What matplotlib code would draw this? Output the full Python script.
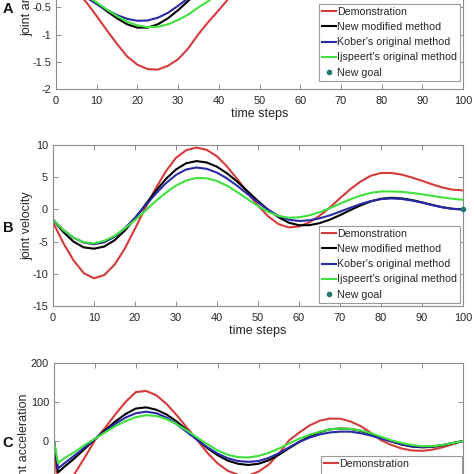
import matplotlib
matplotlib.use('Agg')
import matplotlib.pyplot as plt
from matplotlib.lines import Line2D

plt.rcParams['font.family'] = ['Liberation Sans', 'DejaVu Sans']
plt.rcParams['axes.unicode_minus'] = False

# ---------------- data ----------------
steps = [0, 2.5, 5, 7.5, 10, 12.5, 15, 17.5, 20, 22.5, 25, 27.5, 30, 32.5, 35, 37.5, 40,
         42.5, 45, 47.5, 50, 52.5, 55, 57.5, 60, 62.5, 65, 67.5, 70, 72.5, 75, 77.5, 80,
         82.5, 85, 87.5, 90, 92.5, 95, 97.5, 100]
steps_acc = [0, 1, 2.5, 5, 7.5, 10, 12.5, 15, 17.5, 20, 22.5, 25, 27.5, 30, 32.5, 35, 37.5, 40,
             42.5, 45, 47.5, 50, 52.5, 55, 57.5, 60, 62.5, 65, 67.5, 70, 72.5, 75, 77.5, 80,
             82.5, 85, 87.5, 90, 92.5, 95, 97.5, 100]

labels = ["Demonstration", "New modified method", "Kober's original method",
          "Ijspeert's original method", "New goal"]

# Panel A: joint angle
ang_demo = [0.05, -0.06, -0.2, -0.41, -0.66, -0.92, -1.17, -1.40, -1.55, -1.63, -1.64, -1.57,
            -1.45, -1.25, -0.99, -0.76, -0.55, -0.33, -0.12, 0.07, 0.23, 0.22, 0.18, 0.12,
            0.05, -0.01, -0.05, -0.06, -0.03, 0.03, 0.12, 0.24, 0.38, 0.52, 0.66, 0.79, 0.91,
            1.01, 1.10, 1.18, 1.26]
ang_new = [0.0, -0.06, -0.17, -0.30, -0.43, -0.57, -0.70, -0.81, -0.87, -0.87, -0.81, -0.70,
           -0.55, -0.38, -0.20, -0.03, 0.12, 0.27, 0.38, 0.47, 0.52, 0.53, 0.52, 0.48, 0.42,
           0.37, 0.31, 0.27, 0.24, 0.23, 0.23, 0.25, 0.29, 0.33, 0.37, 0.41, 0.44, 0.46, 0.48,
           0.49, 0.5]
ang_kober = [-0.03, -0.10, -0.20, -0.32, -0.44, -0.55, -0.64, -0.71, -0.745, -0.74, -0.69,
             -0.60, -0.47, -0.33, -0.17, -0.02, 0.11, 0.24, 0.34, 0.41, 0.45, 0.46, 0.45, 0.42,
             0.38, 0.34, 0.30, 0.27, 0.26, 0.26, 0.27, 0.30, 0.33, 0.37, 0.41, 0.44, 0.46, 0.48,
             0.49, 0.5, 0.5]
ang_ijs = [-0.02, -0.08, -0.17, -0.29, -0.41, -0.54, -0.66, -0.76, -0.83, -0.86, -0.855, -0.81,
           -0.73, -0.63, -0.50, -0.38, -0.26, -0.16, -0.09, -0.04, -0.01, -0.01, -0.03, -0.06,
           -0.09, -0.11, -0.13, -0.13, -0.12, -0.09, -0.04, 0.01, 0.08, 0.14, 0.21, 0.27, 0.33,
           0.38, 0.43, 0.47, 0.51]
ang_goal = [0.5]

# Panel B: joint velocity
vel_demo = [-2.0, -5.2, -7.9, -9.9, -10.7, -10.2, -8.6, -6.1, -3.0, 0.2, 3.2, 5.9, 8.0, 9.2,
            9.6, 9.24, 8.24, 6.62, 4.66, 2.57, 0.58, -1.09, -2.29, -2.79, -2.65, -2.02, -1.0,
            0.29, 1.74, 3.12, 4.32, 5.22, 5.66, 5.66, 5.41, 4.96, 4.44, 3.89, 3.40, 3.06, 2.95]
vel_new = [-1.6, -3.5, -5.0, -5.9, -6.1, -5.77, -4.8, -3.3, -1.4, 0.7, 2.8, 4.7, 6.2, 7.17, 7.5,
           7.28, 6.62, 5.58, 4.27, 2.79, 1.3, -0.07, -1.2, -2.06, -2.46, -2.45, -2.14, -1.6,
           -0.89, -0.11, 0.62, 1.24, 1.66, 1.8, 1.71, 1.46, 1.1, 0.7, 0.34, 0.09, 0.0]
vel_kober = [-1.6, -3.2, -4.4, -5.15, -5.4, -5.11, -4.26, -2.95, -1.29, 0.55, 2.39, 4.05, 5.36,
             6.21, 6.5, 6.3, 5.71, 4.79, 3.63, 2.35, 1.07, -0.09, -1.01, -1.6, -1.8, -1.7, -1.39,
             -0.93, -0.35, 0.25, 0.83, 1.29, 1.6, 1.7, 1.62, 1.39, 1.04, 0.66, 0.32, 0.08, 0.0]
vel_ijs = [-1.6, -3.2, -4.4, -5.1, -5.27, -4.88, -4.11, -2.97, -1.67, -0.2, 1.27, 2.57, 3.71,
           4.48, 4.89, 4.83, 4.41, 3.66, 2.67, 1.58, 0.51, -0.39, -1.02, -1.3, -1.23, -0.92,
           -0.43, 0.19, 0.89, 1.56, 2.14, 2.57, 2.78, 2.79, 2.72, 2.56, 2.35, 2.1, 1.86, 1.65, 1.5]
vel_goal = [0.0]

# Panel C: joint acceleration
acc_demo = [0, -130, -118, -84, -42, 2, 34, 68, 100, 125, 128, 117, 95, 66, 34, 3, -30, -57,
            -76, -86, -88, -78, -60, -32, 2, 22, 40, 52, 57.5, 57, 50, 38, 21, 2, -10, -19, -24,
            -25, -22, -16, -8, 0]
acc_new = [0, -80, -66, -44, -20, 5, 28, 50, 69, 83, 86, 80, 68, 50, 28, 4, -18, -36, -50, -58,
           -61, -58, -49, -35, -18, -2, 12, 23, 30, 32, 31, 26, 18, 8, -1, -9, -14, -16, -15,
           -11, -5, 0]
acc_kober = [0, -70, -57, -37, -16, 5, 25, 44, 60, 71, 75, 71, 60, 43, 23, 3, -16, -32, -44,
             -51, -53, -51, -43, -31, -16, -2, 9, 17, 22, 24, 24, 20, 14, 6, -1, -8, -13, -15,
             -14, -10, -5, 0]
acc_ijs = [0, -56, -44, -28, -10, 6, 22, 38, 51, 61, 66, 64, 56, 43, 27, 9, -8, -24, -35, -41,
           -42, -38, -30, -19, -6, 6, 16, 24, 30, 32, 31, 27, 20, 11, 2, -5, -10, -13, -13, -10,
           -5, 0]

# ---------------- styling ----------------
C_RED = '#d63a3a'
C_BLACK = '#000000'
C_BLUE = '#2a2aa6'
C_GREEN = '#3fe03f'
C_GOAL = '#1d7a70'
AX_COL = '#8c8c8c'
TXT_COL = '#262626'
LW = 1.5

W = H = 474.0
fig = plt.figure(figsize=(4.74, 4.74), dpi=100)


def px_axes(l, t, r, b):
    return fig.add_axes([l / W, 1 - b / H, (r - l) / W, (b - t) / H])


def style(ax, ylim, yticks, ylabel):
    ax.set_xlim(0, 100)
    ax.set_ylim(*ylim)
    ax.set_xticks([0, 10, 20, 30, 40, 50, 60, 70, 80, 90, 100])
    ax.set_yticks(yticks)
    ax.set_yticklabels([('%g' % v) for v in yticks])
    for s in ax.spines.values():
        s.set_color(AX_COL)
        s.set_linewidth(0.8)
    ax.tick_params(direction='in', top=True, right=True, length=3.5, width=0.7,
                   color=AX_COL, labelcolor=TXT_COL, labelsize=7.9)
    ax.tick_params(axis='x', pad=5)
    ax.tick_params(axis='y', pad=3.5)
    ax.set_xlabel('time steps', fontsize=9, color=TXT_COL, labelpad=1.2)
    ax.set_ylabel(ylabel, fontsize=9, color=TXT_COL, labelpad=-0.8)


def legend(ax, x, y):
    handles = [Line2D([], [], color=C_RED, lw=LW),
               Line2D([], [], color=C_BLACK, lw=LW),
               Line2D([], [], color=C_BLUE, lw=LW),
               Line2D([], [], color=C_GREEN, lw=LW),
               Line2D([], [], color=C_GOAL, lw=0, marker='o', markersize=3)]
    lg = ax.legend(handles, labels, loc='upper left', bbox_to_anchor=(x / W, 1 - y / H),
                   bbox_transform=fig.transFigure, borderaxespad=0, fontsize=7.7,
                   handlelength=1.3, handletextpad=0.1, labelspacing=0.48, borderpad=0.28,
                   fancybox=False, framealpha=1, edgecolor='#9a9a9a')
    lg.get_frame().set_linewidth(0.8)
    for t in lg.get_texts():
        t.set_color(TXT_COL)


def draw(ax, x, series):
    cols = [C_RED, C_BLACK, C_BLUE, C_GREEN]
    for ys, c in zip(series, cols):
        ax.plot(x, ys, color=c, lw=LW)


# Panel A
axA = px_axes(56, -74.5, 463, 89.3)
draw(axA, steps, [ang_demo, ang_new, ang_kober, ang_ijs])
axA.plot([100], ang_goal, 'o', color=C_GOAL, markersize=3, clip_on=False, zorder=5)
style(axA, (-2, 1), [-2, -1.5, -1, -0.5, 0, 0.5, 1], 'joint angle')
legend(axA, 319, 4)

# Panel B
axB = px_axes(53, 145, 463, 306)
draw(axB, steps, [vel_demo, vel_new, vel_kober, vel_ijs])
axB.plot([100], vel_goal, 'o', color=C_GOAL, markersize=3, clip_on=False, zorder=5)
style(axB, (-15, 10), [-15, -10, -5, 0, 5, 10], 'joint velocity')
legend(axB, 319, 226)

# Panel C (axis extends below the visible crop)
axC = px_axes(54, 362.7, 463, 558.6)
draw(axC, steps_acc, [acc_demo, acc_new, acc_kober, acc_ijs])
style(axC, (-300, 200), [-300, -200, -100, 0, 100, 200], 'joint acceleration')
axC.yaxis.set_label_coords(-0.058, 0.6)
legend(axC, 321, 456)

# panel letters
for letter, yc in (('A', 9), ('B', 228), ('C', 443)):
    fig.text(8 / W, 1 - yc / H, letter, fontsize=10.5, fontweight='bold',
             ha='center', va='center', color='#111111')

fig.savefig('out.png', dpi=100)
